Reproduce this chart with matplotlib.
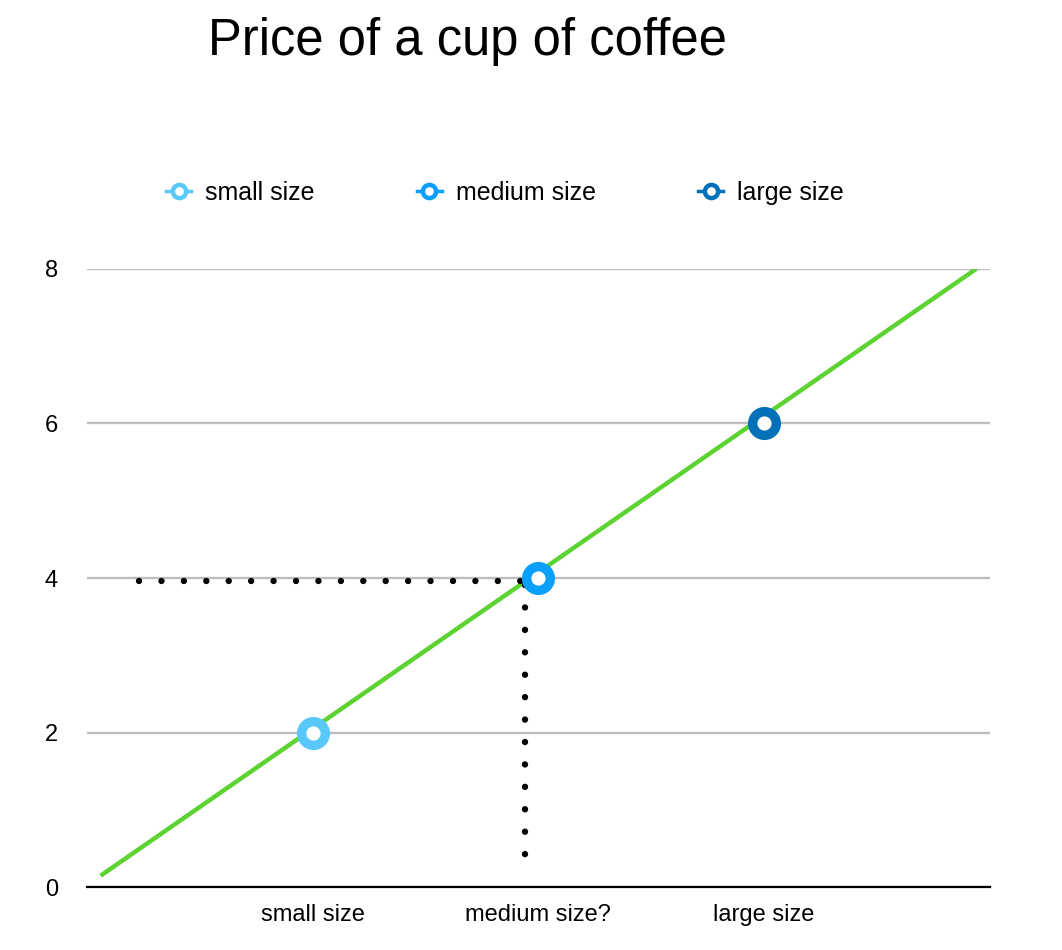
import numpy as np
import matplotlib
matplotlib.use('Agg')
import matplotlib.pyplot as plt
from matplotlib.lines import Line2D

plt.rcParams['font.family'] = ['Liberation Sans', 'DejaVu Sans']

# data
sizes = ['small size', 'medium size', 'large size']
xlabels = ['small size', 'medium size?', 'large size']
xpos = [1, 2, 3]
prices = [2, 4, 6]
colors = ['#5ac8fa', '#0a9ffa', '#0071b8']

trend_x = [0.06, 3.94]
trend_y = [0.15, 8.0]

guide_h_x = [0.23, 1.94]
guide_h_y = [3.96, 3.96]
guide_v_x = [1.94, 1.94]
guide_v_y = [3.91, 0.37]

fig = plt.figure(figsize=(10.62, 9.5), dpi=100)
ax = fig.add_axes([0.082, 0.066, 0.85, 0.651])

ax.plot(trend_x, trend_y, color='#5dd332', lw=3.2, zorder=3, solid_capstyle='butt')

dot = dict(color='black', lw=4.6, linestyle=(0, (0.01, 3.5)), dash_capstyle='round', zorder=4)
ax.plot(guide_h_x, guide_h_y, **dot)
ax.plot(guide_v_x, guide_v_y, **dot)

for x, y, c in zip(xpos, prices, colors):
    ax.plot(x, y, 'o', ms=17, mfc='white', mec=c, mew=6.8, zorder=5)

ax.set_xlim(0, 4)
ax.set_ylim(0, 8)
ax.set_yticks([0, 2, 4, 6, 8])
ax.set_xticks(xpos)
ax.set_xticklabels(xlabels)
ax.tick_params(axis='both', length=0, labelsize=17)
ax.tick_params(axis='y', pad=21)
ax.tick_params(axis='x', pad=12)
for s in ['left', 'right', 'top']:
    ax.spines[s].set_visible(False)
ax.spines['bottom'].set_linewidth(1.6)
ax.spines['bottom'].set_zorder(6)
ax.grid(axis='y', color='#bdbdbd', lw=1.7)
ax.set_axisbelow(True)

handles = [Line2D([0], [0], color=c, lw=2.5, marker='o', ms=9.5, mfc='white', mec=c, mew=3.2)
           for c in colors]
fig.legend(handles, sizes, loc='center', bbox_to_anchor=(0.4755, 0.797), ncol=3,
           frameon=False, fontsize=18, handlelength=1.0, handletextpad=0.55,
           columnspacing=4.1)

fig.text(0.44, 0.956, 'Price of a cup of coffee', ha='center', va='center', fontsize=36.5)

fig.savefig('out.png', dpi=100)
